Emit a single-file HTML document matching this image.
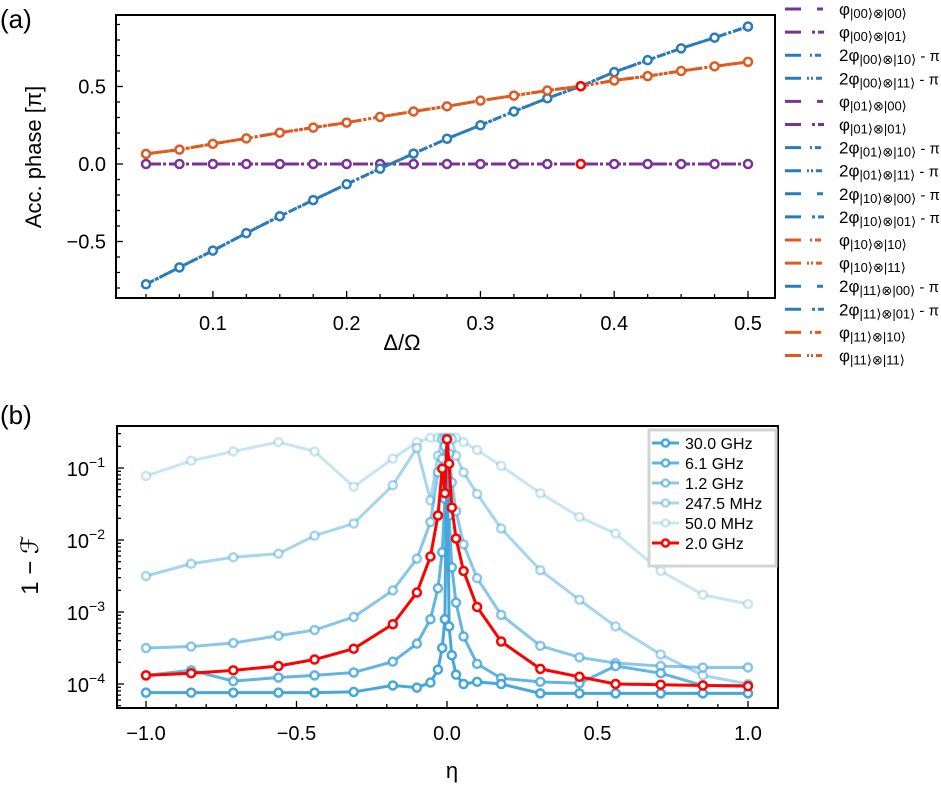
<!DOCTYPE html>
<html><head><meta charset="utf-8">
<style>
html,body{margin:0;padding:0;background:#fff;}
svg{display:block;font-family:"Liberation Sans","DejaVu Sans",sans-serif;}
</style></head>
<body>
<svg id="fig" width="941" height="785" viewBox="0 0 941 785" xmlns="http://www.w3.org/2000/svg">
<text x="0" y="28" font-size="26">(a)</text>
<text x="0" y="424" font-size="26">(b)</text>
<g id="pa"></g>
<g id="pb"></g>
</svg>
<script>
// ---- Panel (a) data ----
const aX = [0.05,0.075,0.1,0.125,0.15,0.175,0.2,0.225,0.25,0.275,0.3,0.325,0.35,0.375,0.4,0.425,0.45,0.475,0.5];
const aPurple = [0,0,0,0,0,0,0,0,0,0,0,0,0,0,0,0,0,0,0];
const aBlue = [-0.776,-0.667,-0.559,-0.446,-0.337,-0.233,-0.130,-0.030,0.067,0.163,0.250,0.339,0.424,0.502,0.593,0.670,0.746,0.815,0.887];
const aOrange = [0.065,0.093,0.130,0.165,0.202,0.235,0.267,0.304,0.339,0.372,0.409,0.441,0.474,0.502,0.539,0.567,0.600,0.630,0.659];
const aXTicks = [0.1,0.2,0.3,0.4,0.5];
const aYTicks = [-0.5,0.0,0.5];
const aHighlight = 0.375;
// ---- Panel (b) data ----
const bEta = [-1,-0.85,-0.71,-0.56,-0.44,-0.31,-0.18,-0.1,-0.055,-0.03,-0.016,-0.007,0,0.007,0.016,0.03,0.055,0.1,0.18,0.31,0.44,0.56,0.71,0.85,1];
const bNames = ["30.0 GHz","6.1 GHz","1.2 GHz","247.5 MHz","50.0 MHz","2.0 GHz"];
const bLog30 = [-4.12,-4.12,-4.12,-4.12,-4.12,-4.11,-4.02,-4.05,-3.98,-3.8,-3.5,-3.1,-0.6,-3.2,-3.6,-3.87,-4.0,-3.97,-4.0,-4.13,-4.13,-4.13,-4.13,-4.13,-4.13];
const bLog61 = [-3.88,-3.81,-3.96,-3.91,-3.88,-3.84,-3.69,-3.44,-3.1,-2.67,-2.17,-1.43,-0.6,-1.66,-2.38,-2.87,-3.34,-3.72,-3.92,-3.97,-3.99,-3.75,-3.85,-4.02,-4.02];
const bLog12 = [-3.5,-3.48,-3.43,-3.33,-3.25,-3.07,-2.7,-2.26,-1.75,-1.06,-0.87,-0.7,-0.6,-0.8,-1.2,-1.6,-2.06,-2.53,-3.04,-3.47,-3.63,-3.71,-3.75,-3.77,-3.77];
const bLog247 = [-2.5,-2.33,-2.24,-2.19,-1.94,-1.77,-1.24,-0.72,-1.45,-0.83,-0.6,-0.6,-0.6,-0.6,-0.6,-0.83,-1.06,-1.36,-1.84,-2.42,-2.83,-3.2,-3.59,-3.88,-4.0];
const bLog50 = [-1.11,-0.9,-0.77,-0.64,-0.77,-1.26,-0.87,-0.64,-0.58,-0.58,-0.58,-0.58,-0.58,-0.58,-0.58,-0.58,-0.64,-0.75,-0.97,-1.35,-1.68,-1.91,-2.43,-2.76,-2.89];
const bLogRed = [-3.88,-3.85,-3.81,-3.75,-3.66,-3.51,-3.17,-2.73,-2.23,-1.66,-1.01,-1.35,-0.6,-0.94,-1.55,-1.98,-2.43,-2.93,-3.41,-3.79,-3.9,-4.0,-4.01,-4.02,-4.03];
const bXTicks = [-1.0,-0.5,0.0,0.5,1.0];
const bYTicks = [-1,-2,-3,-4];

const NS="http://www.w3.org/2000/svg";
function mk(tag,attrs,parent){const e=document.createElementNS(NS,tag);for(const k in attrs)e.setAttribute(k,attrs[k]);if(parent)parent.appendChild(e);return e;}

// ===== Panel A =====
const pa=document.getElementById('pa');
const aL=116,aR=775,aT=15,aB=298;
const ax=d=>146+(d-0.05)/0.45*602;
const ay=v=>164-v*155;
const PUR="#7b3294",BLU="#2b7bba",ORA="#e05a1f";
function aSeries(vals,color,dashes,name){
  const g=mk('g',{},pa);
  
  
  const pts=aX.map((d,i)=>ax(d)+','+ay(vals[i])).join(' ');
  dashes.forEach(ds=>{
    const l=mk('polyline',{points:pts,fill:'none',stroke:color,'stroke-width':3,'stroke-dasharray':ds},g);
    
    
  });
  aX.forEach((d,i)=>{
    const hl=Math.abs(d-aHighlight)<1e-9;
    const c=mk('circle',{cx:ax(d),cy:ay(vals[i]),r:4,fill:'#fff',stroke:hl?'#f00':color,'stroke-width':2.5},g);
    
    
  });
}
aSeries(aPurple,PUR,['14 3 3 3','9 3 3 2 3 3'],'purple-series');
aSeries(aBlue,BLU,['9 2 3 2','3 2'],'blue-series');
aSeries(aOrange,ORA,['11 2 3 2 3 2','3 2'],'orange-series');
const fa=mk('rect',{x:aL,y:aT,width:aR-aL,height:aB-aT,fill:'none',stroke:'#000','stroke-width':2},pa);


for(let d=0.05;d<=0.5001;d+=0.025){
  const major=aXTicks.some(t=>Math.abs(t-d)<1e-6);
  mk('line',{x1:ax(d),x2:ax(d),y1:aB,y2:aB-(major?7:4),stroke:'#000','stroke-width':1.3},pa);
}
for(let v=-0.8;v<=0.9001;v+=0.1){
  const major=aYTicks.some(t=>Math.abs(t-v)<1e-6);
  mk('line',{x1:aL,x2:aL+(major?7:4),y1:ay(v),y2:ay(v),stroke:'#000','stroke-width':1.3},pa);
}
aXTicks.forEach(t=>{const e=mk('text',{x:ax(t),y:330,'font-size':20,'text-anchor':'middle'},pa);e.textContent=t.toFixed(1);
  });
aYTicks.forEach(t=>{const e=mk('text',{x:aL-10,y:ay(t)+7,'font-size':20,'text-anchor':'end'},pa);e.textContent=(t<0?'\u2212':'')+Math.abs(t).toFixed(1);
  });
let t=mk('text',{x:402,y:350,'font-size':22,'text-anchor':'middle'},pa);t.textContent='\u0394/\u03A9';

t=mk('text',{x:0,y:0,'font-size':22,'text-anchor':'middle',transform:'translate(41,157) rotate(-90)'},pa);t.textContent='Acc. phase [\u03C0]';


// legend a
const legA=[["φ","00","00",PUR],["φ","00","01",PUR],["2φ","00","10",BLU],["2φ","00","11",BLU],
["φ","01","00",PUR],["φ","01","01",PUR],["2φ","01","10",BLU],["2φ","01","11",BLU],
["2φ","10","00",BLU],["2φ","10","01",BLU],["φ","10","10",ORA],["φ","10","11",ORA],
["2φ","11","00",BLU],["2φ","11","01",BLU],["φ","11","10",ORA],["φ","11","11",ORA]];
const lg=mk('g',{},pa);


const dashSet=['16 16 6 50','16 11 3 3 6 50','16 9 2 3 6 50','16 6 2 2 2 3 6 50'];
legA.forEach((e,i)=>{
  const y=9+23.1*i;
  const g=mk('g',{},lg);
  
  
  mk('line',{x1:785,x2:833,y1:y,y2:y,stroke:e[3],'stroke-width':3,'stroke-dasharray':dashSet[i%4]},g);
  const tx=mk('text',{x:839,y:y+6,'font-size':17},g);
  const s1=mk('tspan',{},tx);s1.textContent=e[0];
  const s2=mk('tspan',{'font-size':13,dy:3},tx);s2.textContent='|'+e[1]+'\u27E9\u2297|'+e[2]+'\u27E9';
  if(e[0]==='2φ'){const s3=mk('tspan',{'font-size':15,dy:-3},tx);s3.textContent=' - \u03C0';}
});

// ===== Panel B =====
const pb=document.getElementById('pb');
const bL=117,bR=778,bT=426,bB=708;
const bx=e=>447+e*301;
const by=v=>684-(v+4)*72;
const bSeries=[[bLog50,'rgba(59,162,216,0.28)','series-50mhz'],[bLog247,'rgba(59,162,216,0.45)','series-247mhz'],
[bLog12,'rgba(59,162,216,0.6)','series-1p2ghz'],[bLog61,'rgba(59,162,216,0.8)','series-6p1ghz'],[bLog30,'rgba(59,162,216,0.95)','series-30ghz'],[bLogRed,'#ff0000','series-2ghz']];
bSeries.forEach(s=>{
  const g=mk('g',{},pb);
  
  
  const pl=mk('polyline',{points:bEta.map((e,i)=>bx(e)+','+by(s[0][i])).join(' '),fill:'none',stroke:s[1],'stroke-width':3,'stroke-linejoin':'round'},g);
  
  
  bEta.forEach((e,i)=>{
    const c=mk('circle',{cx:bx(e),cy:by(s[0][i]),r:4,fill:'#fff',stroke:s[1],'stroke-width':2.5},g);
    
    
  });
});
const fb=mk('rect',{x:bL,y:bT,width:bR-bL,height:bB-bT,fill:'none',stroke:'#000','stroke-width':2},pb);


for(let e=-1.1;e<=1.1001;e+=0.1){
  if(bx(e)<bL||bx(e)>bR)continue;
  const major=bXTicks.some(t=>Math.abs(t-e)<1e-6);
  mk('line',{x1:bx(e),x2:bx(e),y1:bB,y2:bB-(major?7:4),stroke:'#000','stroke-width':1.3},pb);
}
for(let d=-5;d<=0;d++){for(let m=1;m<10;m++){
  const v=d+Math.log10(m);const yy=by(v);if(yy<bT||yy>bB)continue;
  mk('line',{x1:bL,x2:bL+(m===1?7:4),y1:yy,y2:yy,stroke:'#000','stroke-width':1.3},pb);}}
bXTicks.forEach(t=>{const e=mk('text',{x:bx(t),y:740,'font-size':20,'text-anchor':'middle'},pb);e.textContent=(t<0?'\u2212':'')+Math.abs(t).toFixed(1);
  });
bYTicks.forEach(t=>{const e=mk('text',{x:bL-12,y:by(t)+8,'font-size':20,'text-anchor':'end'},pb);
  const a=mk('tspan',{},e);a.textContent='10';const b=mk('tspan',{'font-size':14,dy:-9},e);b.textContent='\u2212'+Math.abs(t);
  });
t=mk('text',{x:452,y:778,'font-size':22,'text-anchor':'middle'},pb);t.textContent='\u03B7';

t=mk('text',{x:0,y:0,'font-size':24,'text-anchor':'middle',transform:'translate(38,565) rotate(-90)'},pb);t.textContent='1 \u2212 \u2131';

// legend b
const lgb=mk('g',{},pb);


mk('rect',{x:649,y:430,width:127,height:136,fill:'#fff',stroke:'#d4d4d4','stroke-width':3},lgb);
const legOrder=[4,3,2,1,0,5];
bNames.forEach((n,i)=>{
  const s=bSeries[legOrder[i]];const y=443+20*i;
  const g=mk('g',{},lgb);
  
  
  mk('line',{x1:652,x2:679,y1:y,y2:y,stroke:s[1],'stroke-width':3},g);
  mk('circle',{cx:665.5,cy:y,r:3.5,fill:'#fff',stroke:s[1],'stroke-width':2.5},g);
  const tx=mk('text',{x:685,y:y+6,'font-size':16},g);tx.textContent=n;
});
</script>
</body></html>
